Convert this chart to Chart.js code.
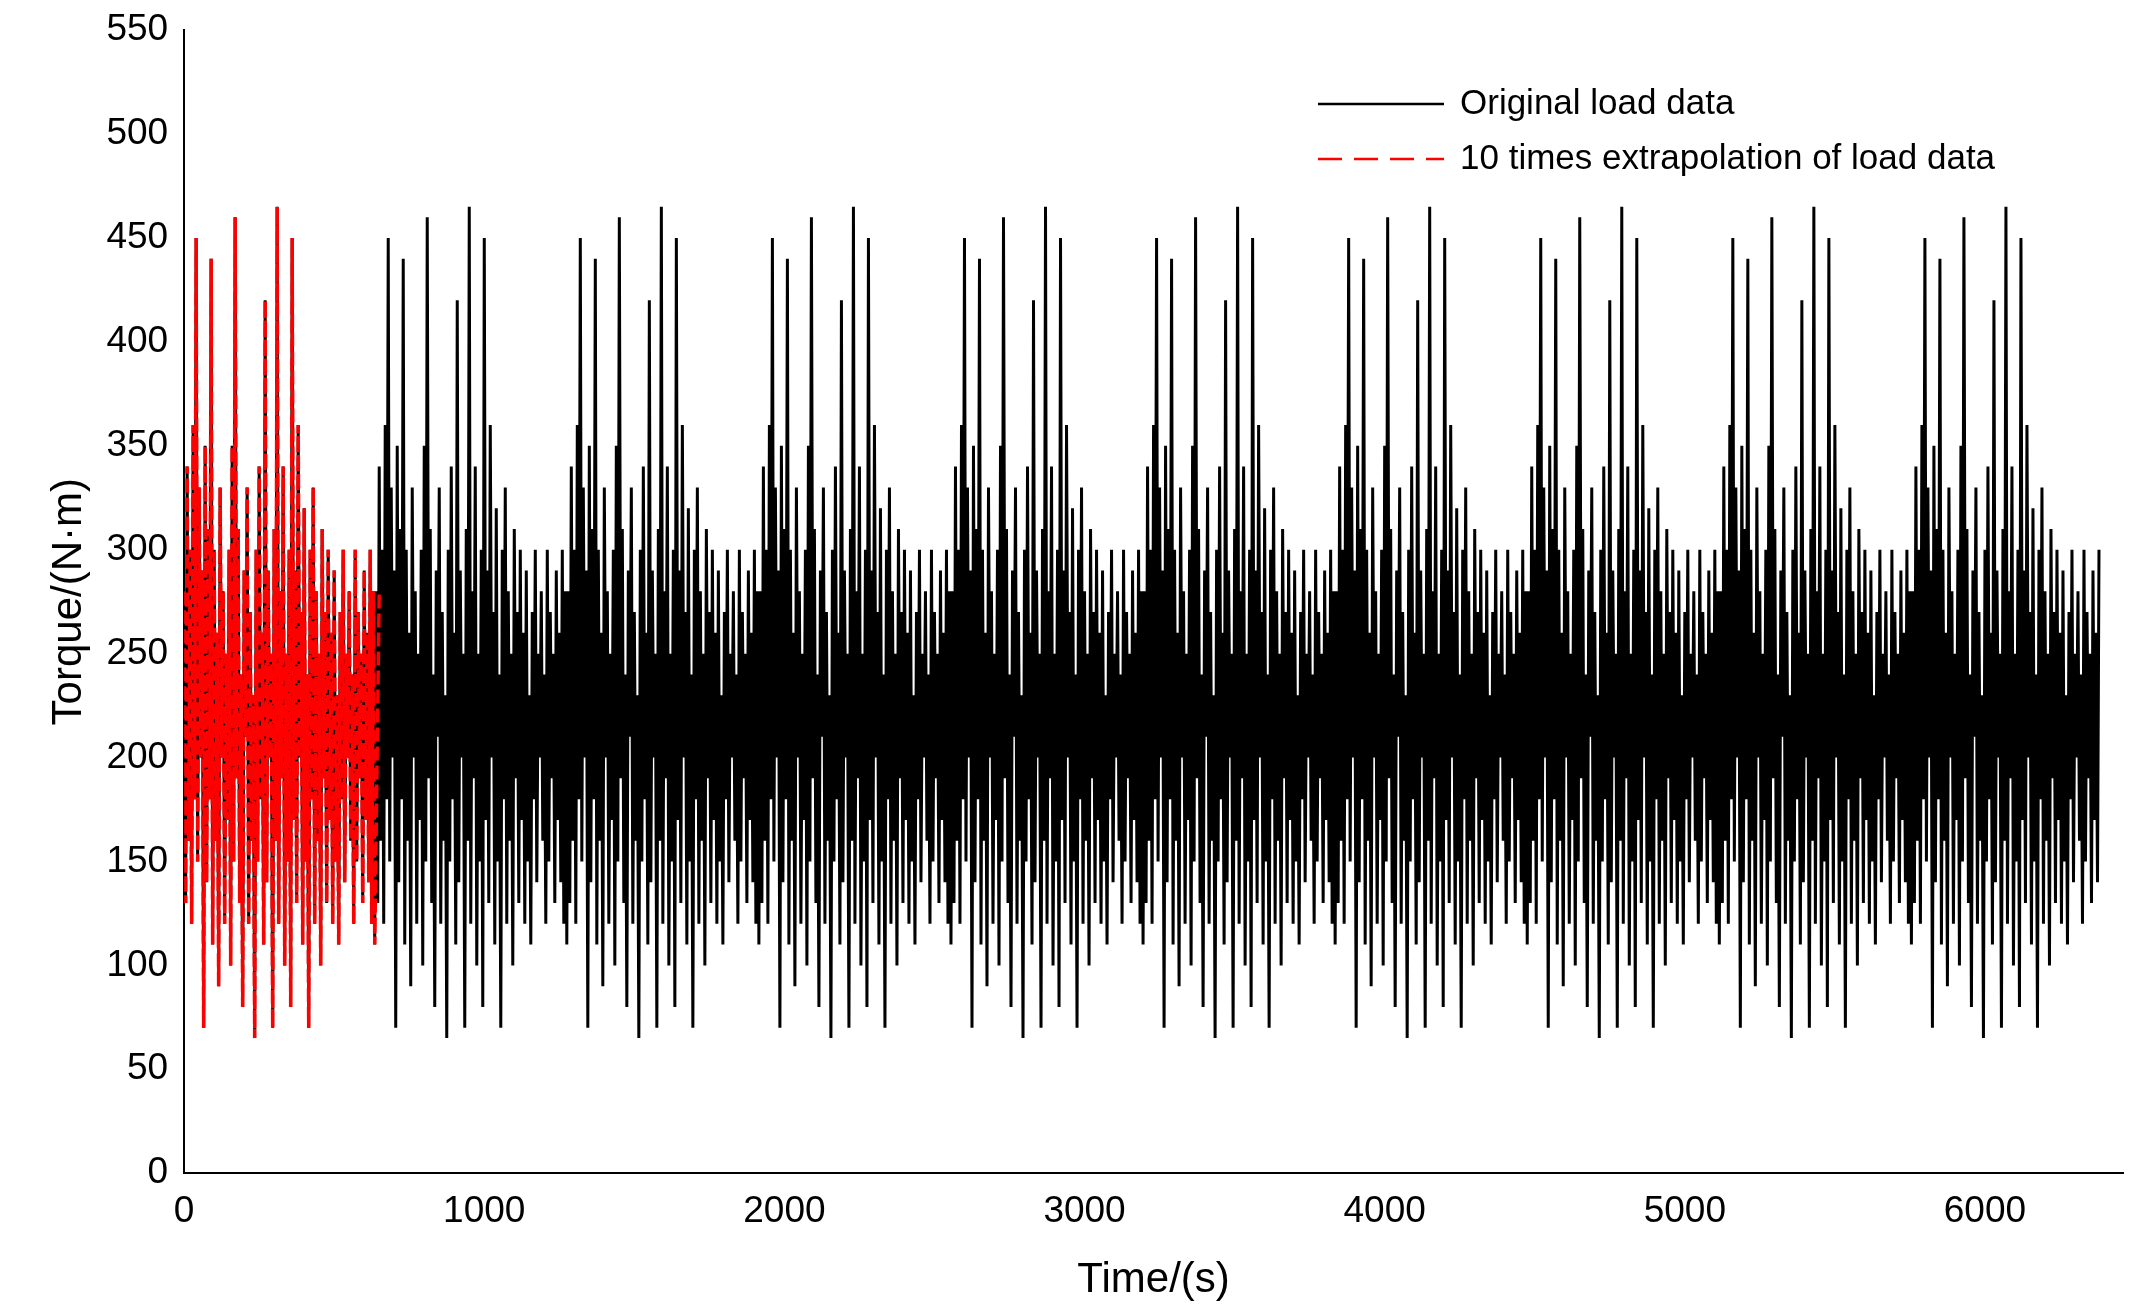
<!DOCTYPE html>
<html><head><meta charset="utf-8">
<script src="https://cdn.jsdelivr.net/npm/chart.js@4"></script>
<style>html,body{margin:0;padding:0;background:#fff}#w{width:2137px;height:1310px}</style>
</head><body><div id="w"><canvas id="c"></canvas></div>
<script>
const cycleValues=[280,130,340,160,300,120,360,180,450,150,330,200,290,70,350,140,310,180,440,110,300,160,260,90,330,200,280,120,250,170,300,100,350,150,460,190,310,130,240,80,290,210,330,120,270,160,230,65,300,150,340,180,260,110,420,140,290,200,250,70,310,160,465,120,280,190,340,100,250,150,300,80,450,170,290,130,360,200,270,110,320,150,240,70,300,180,330,120,280,160,250,100,310,190,270,130,300,170,260,120,290,150,230,110,270,180,300,140,250,200,280,160,240,120,300,150,270,190,250,130,290,170,260,140,300,120,280,110];
const cycleLength=640, cycles=10, endTime=6380;
const seriesNames=['Original load data','10 times extrapolation of load data'];
const xTicks=[0,1000,2000,3000,4000,5000,6000];
const dt=cycleLength/cycleValues.length;
const black=[], red=[];
for(let k=0;k<cycles;k++) cycleValues.forEach((v,i)=>{const x=k*cycleLength+i*dt; if(x<=endTime) black.push({x,y:v});});
cycleValues.forEach((v,i)=>red.push({x:i*dt,y:v}));
red.push({x:650,y:cycleValues[0]});
const legendPlugin={id:'lg',afterDraw(ch){const c=ch.ctx;c.save();c.font='35px "Liberation Sans"';c.textBaseline='middle';
 const x0=1318,y0=104;
 c.strokeStyle='#000';c.lineWidth=2.5;c.beginPath();c.moveTo(x0,y0);c.lineTo(x0+126,y0);c.stroke();
 c.strokeStyle='#f00';c.setLineDash([24,12]);c.beginPath();c.moveTo(x0,y0+55);c.lineTo(x0+126,y0+55);c.stroke();c.setLineDash([]);
 c.fillStyle='#000';c.fillText(seriesNames[0],x0+142,y0);c.fillText(seriesNames[1],x0+142,y0+55);c.restore();}};
const tf={family:'"Liberation Sans"',size:37};
new Chart(document.getElementById('c'),{type:'line',
 data:{datasets:[
  {label:seriesNames[0],data:black,borderColor:'#000',borderWidth:3,pointRadius:0,tension:0,order:2},
  {label:seriesNames[1],data:red,borderColor:'#f00',borderWidth:3.5,borderDash:[14,5],pointRadius:0,tension:0,order:1}]},
 options:{responsive:true,maintainAspectRatio:false,animation:false,
  layout:{padding:{left:40,right:14,top:22,bottom:0}},
  plugins:{legend:{display:false},tooltip:{enabled:false}},
  scales:{
   x:{type:'linear',min:0,max:6460,afterBuildTicks:a=>{a.ticks=xTicks.map(v=>({value:v}));},
      grid:{display:false,drawTicks:true,tickLength:8,color:'#000'},border:{color:'#000',width:2},
      ticks:{color:'#000',font:tf,maxRotation:0,padding:8,callback:v=>String(v)},
      title:{display:true,text:'Time/(s)',color:'#000',font:{family:'"Liberation Sans"',size:42},padding:{top:14,bottom:4}}},
   y:{min:0,max:550,ticks:{stepSize:50,color:'#000',font:tf,padding:8,callback:v=>String(v)},
      grid:{display:false,tickLength:8},border:{color:'#000',width:2},
      title:{display:true,text:'Torque/(N·m)',color:'#000',font:{family:'"Liberation Sans"',size:42}}}}},
 plugins:[legendPlugin]});
</script></body></html>
